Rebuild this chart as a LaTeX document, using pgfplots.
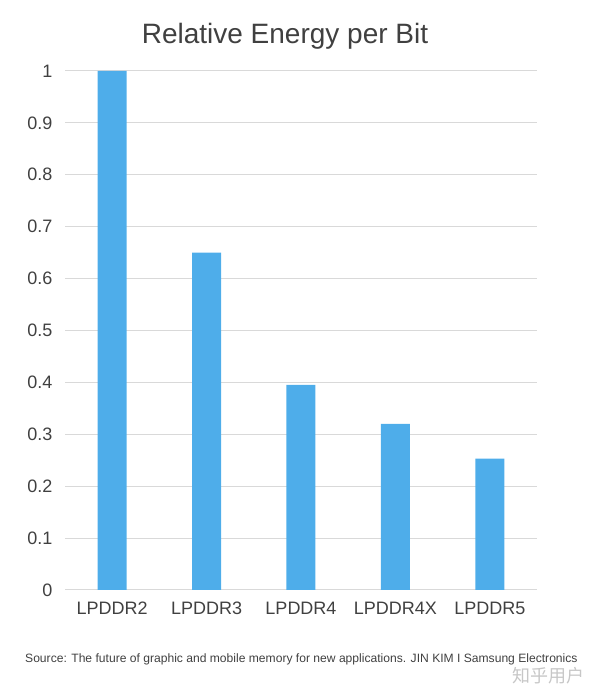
\documentclass[border=0pt]{standalone}
\usepackage{fontspec}
\setmainfont{Liberation Sans}
\newfontfamily\cjk{Noto Sans CJK SC}
\usepackage{pgfplots}
\pgfplotsset{compat=1.18}
\definecolor{barblue}{RGB}{78,173,234}
\definecolor{txtgray}{RGB}{64,64,64}
\definecolor{gridgray}{RGB}{217,217,217}
\begin{document}
\begin{tikzpicture}
\useasboundingbox (0pt,0pt) rectangle (600pt,691pt);
\begin{axis}[
    at={(65pt,101pt)}, anchor=south west,
    scale only axis,
    width=472pt, height=519pt,
    ymin=0, ymax=1,
    xmin=-0.5, xmax=4.5,
    ytick={0,0.1,...,1},
    xtick={0,1,2,3,4},
    xticklabels={LPDDR2,LPDDR3,LPDDR4,LPDDR4X,LPDDR5},
    ymajorgrids,
    grid style={gridgray, line width=1pt},
    axis line style={draw=none},
    major tick style={draw=none},
    ticklabel style={font=\fontsize{18}{20}\selectfont, text=txtgray},
    yticklabel style={xshift=-9pt},
    xticklabel style={yshift=-4pt},
    /pgf/number format/assume math mode=true,
    yticklabel={\pgfmathprintnumber[fixed]{\tick}},
    ybar, bar width=29pt,
]
\addplot[fill=barblue, draw=none] coordinates {
    (0,1) (1,0.65) (2,0.395) (3,0.32) (4,0.253)
};
\end{axis}
\node[text=txtgray, font=\fontsize{28}{32}\selectfont] at (285pt,655pt) {Relative Energy per Bit};
\node[anchor=base west, text=txtgray, font=\fontsize{12.1}{14}\selectfont, inner sep=0pt] at (25pt,28pt) {Source: The future of graphic and mobile memory for new applications. JIN KIM I Samsung Electronics};
\node[text=black!22, font=\cjk\fontsize{18}{20}\selectfont] at (548pt,15pt) {知乎用户};
\end{tikzpicture}
\end{document}
